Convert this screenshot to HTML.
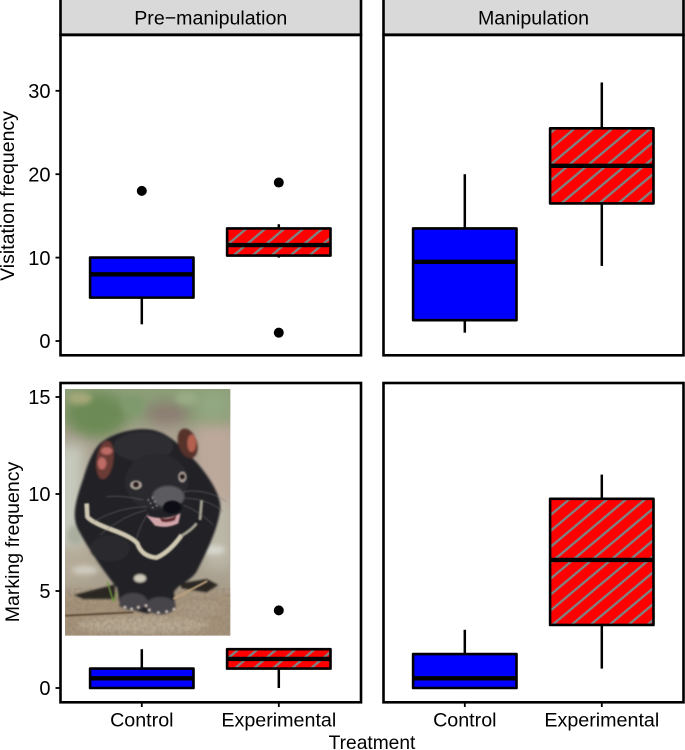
<!DOCTYPE html>
<html lang="en">
<head>
<meta charset="utf-8">
<title>Visitation and marking frequency</title>
<style>
html,body{margin:0;padding:0;background:#fff;width:685px;height:750px;overflow:hidden}
svg{display:block;font-family:"Liberation Sans",Arial,sans-serif;fill:#000}
text{font-size:19.6px}
</style>
</head>
<body>
<svg id="chart" xmlns="http://www.w3.org/2000/svg" width="685" height="750" viewBox="0 0 685 750">
<defs>
<pattern id="hatch" patternUnits="userSpaceOnUse" width="30" height="12.2" patternTransform="rotate(-40) translate(0 3)">
<rect width="30" height="12.2" fill="#ff0000"></rect>
<rect y="0" width="30" height="2.4" fill="#808080"></rect>
</pattern>
<filter id="b20" x="-30%" y="-30%" width="160%" height="160%"><feGaussianBlur stdDeviation="20"></feGaussianBlur></filter>
<filter id="b8" x="-30%" y="-30%" width="160%" height="160%"><feGaussianBlur stdDeviation="8"></feGaussianBlur></filter>
<filter id="b3" x="-30%" y="-30%" width="160%" height="160%"><feGaussianBlur stdDeviation="3.5"></feGaussianBlur></filter>
<filter id="b1" x="-30%" y="-30%" width="160%" height="160%"><feGaussianBlur stdDeviation="2.4"></feGaussianBlur></filter>
<filter id="grain" x="0" y="0" width="100%" height="100%">
  <feTurbulence type="fractalNoise" baseFrequency="0.09" numOctaves="3" seed="4"></feTurbulence>
  <feColorMatrix type="matrix" values="0 0 0 0 0.25  0 0 0 0 0.2  0 0 0 0 0.15  1.6 0 0 0 -0.55"></feColorMatrix>
</filter>
<clipPath id="photoClip"><rect x="195" y="42" width="496" height="740"></rect></clipPath>
</defs>

<g id="panels"></g>

<g transform="translate(0 375) scale(0.33333)" clip-path="url(#photoClip)">
  <rect x="195" y="42" width="496" height="740" fill="#a9a08f"></rect>
  <g filter="url(#b20)">
    <rect x="170" y="20" width="540" height="130" fill="#8a9e76"></rect>
    <ellipse cx="290" cy="120" rx="95" ry="70" fill="#6c8a55"></ellipse>
    <ellipse cx="640" cy="90" rx="50" ry="40" fill="#93a983"></ellipse>
    <ellipse cx="500" cy="115" rx="70" ry="35" fill="#8b7d72"></ellipse>
    <rect x="590" y="150" width="110" height="230" fill="#bda99b"></rect>
    <rect x="170" y="210" width="80" height="300" fill="#c6cbbd"></rect>
    <rect x="610" y="380" width="90" height="200" fill="#bcb8a8"></rect>
    <rect x="170" y="510" width="110" height="110" fill="#b5aa98"></rect>
    <rect x="170" y="650" width="540" height="150" fill="#a59279"></rect>
  </g>
  <g filter="url(#b8)">
    <ellipse cx="240" cy="70" rx="36" ry="18" fill="#a5a878"></ellipse>
    <ellipse cx="400" cy="90" rx="34" ry="30" fill="#7f9a6d"></ellipse>
    <ellipse cx="560" cy="70" rx="34" ry="20" fill="#98ab84"></ellipse>
    <ellipse cx="640" cy="525" rx="35" ry="14" fill="#d8d8cf"></ellipse>
    <ellipse cx="255" cy="585" rx="40" ry="12" fill="#d0cec3"></ellipse>
    <ellipse cx="225" cy="480" rx="24" ry="30" fill="#a9ad9d"></ellipse>
    <ellipse cx="430" cy="750" rx="200" ry="26" fill="#b7a892"></ellipse>
    <ellipse cx="600" cy="700" rx="70" ry="25" fill="#ab9a84"></ellipse>
  </g>
  <rect x="195" y="640" width="496" height="142" filter="url(#grain)" opacity="0.55"></rect>
  <g filter="url(#b3)">
    <path d="M222 660 L345 628 L345 672 L250 672Z" fill="#2b2723"></path>
    <path d="M540 625 L620 612 L655 630 L620 652 L545 640Z" fill="#2b2723"></path>
    <path d="M300 205 C340 172 420 152 470 168 C510 180 545 215 590 262 C640 320 668 375 660 410 C650 470 620 530 590 590 C570 620 540 625 522 650 L525 700 L440 715 L360 695 L352 640 C320 600 270 530 238 470 C215 430 222 390 250 310 C265 260 280 225 300 205Z" fill="#222226"></path>
    <ellipse cx="430" cy="215" rx="90" ry="45" fill="#2e2e33"></ellipse>
    <ellipse cx="470" cy="320" rx="95" ry="85" fill="#2a2a2e"></ellipse>
    <ellipse cx="330" cy="520" rx="60" ry="40" fill="#29292d"></ellipse>
    <ellipse cx="315" cy="255" rx="25" ry="58" fill="#6a3a35" transform="rotate(8 315 255)"></ellipse>
    <ellipse cx="563" cy="205" rx="28" ry="46" fill="#55302b" transform="rotate(-18 563 205)"></ellipse>
    <ellipse cx="575" cy="205" rx="13" ry="26" fill="#b5604f"></ellipse>
    <ellipse cx="320" cy="228" rx="17" ry="11" fill="#c06c66"></ellipse>
    <ellipse cx="306" cy="265" rx="13" ry="18" fill="#c06c66"></ellipse>
    <ellipse cx="505" cy="365" rx="48" ry="32" fill="#5c5c60"></ellipse>
    <ellipse cx="420" cy="610" rx="18" ry="12" fill="#cfc9ba"></ellipse>
    <ellipse cx="400" cy="680" rx="42" ry="26" fill="#47444a"></ellipse>
    <ellipse cx="482" cy="692" rx="45" ry="26" fill="#47444a"></ellipse>
  </g>
  <g filter="url(#b1)">
    <path d="M260 385 L262 425 Q272 440 330 462 Q395 485 412 505 Q425 545 470 548 Q510 530 545 480" stroke="#cfc7b1" stroke-width="14" fill="none"></path>
    <path d="M545 482 Q575 465 590 445 M600 435 L605 375" stroke="#a19d8e" stroke-width="9" fill="none"></path>
    <ellipse cx="408" cy="330" rx="18" ry="14" fill="#a59a92"></ellipse>
    <circle cx="408" cy="329" r="9" fill="#2a1e1a"></circle>
    <ellipse cx="547" cy="306" rx="13" ry="17" fill="#9c918a"></ellipse>
    <circle cx="547" cy="305" r="8" fill="#2a1e1a"></circle>
    <ellipse cx="517" cy="397" rx="28" ry="20" fill="#111114"></ellipse>
    <path d="M438 420 Q490 440 542 415 L535 445 Q500 462 465 452Z" fill="#d2a5aa"></path>
    <path d="M478 428 Q505 436 530 420 L525 436 Q500 445 485 440Z" fill="#5e2a2d"></path>
    <path d="M330 645 L340 680 M350 650 L340 680 M322 620 L340 680" stroke="#6f9a3e" stroke-width="4" fill="none"></path>
    <path d="M520 672 L622 618" stroke="#bda27c" stroke-width="6"></path>
    <path d="M195 722 L400 712" stroke="#54402f" stroke-width="5"></path>
    <g fill="#b9ada5">
      <circle cx="375" cy="697" r="5"></circle><circle cx="395" cy="702" r="5"></circle><circle cx="415" cy="697" r="5"></circle><circle cx="438" cy="692" r="5"></circle>
      <circle cx="448" cy="705" r="5"></circle><circle cx="475" cy="713" r="5"></circle><circle cx="500" cy="710" r="5"></circle><circle cx="522" cy="703" r="5"></circle>
    </g>
    <g stroke="#77777b" stroke-width="1.5" fill="none">
      <path d="M440 395 Q360 395 280 440"></path><path d="M440 405 Q370 420 300 480"></path><path d="M445 415 Q420 450 410 490"></path><path d="M430 375 Q370 360 320 365"></path>
      <path d="M550 350 Q620 340 680 380"></path><path d="M555 370 Q620 370 670 410"></path><path d="M550 390 Q600 410 640 450"></path>
    </g>
    <g fill="#b0b0b4">
      <circle cx="445" cy="375" r="2.5"></circle><circle cx="458" cy="368" r="2.5"></circle><circle cx="452" cy="385" r="2.5"></circle><circle cx="465" cy="380" r="2.5"></circle><circle cx="458" cy="398" r="2.5"></circle><circle cx="470" cy="392" r="2.5"></circle>
    </g>
  </g>
</g>

<g id="overlay"></g>
</svg>

<script>
// Order in all box arrays: Visitation Pre (Control, Experimental), Visitation Manip, Marking Pre, Marking Manip
const categories = ['Control', 'Experimental'];
const stripTitles = ['Pre\u2212manipulation', 'Manipulation'];
const visitationTicks = [0, 10, 20, 30];
const markingTicks = [0, 5, 10, 15];
const rowTitles = ['Visitation frequency', 'Marking frequency'];
const xAxisTitle = 'Treatment';

const whiskerLow  = [2, 10,    1, 9,      0, 0,    0, 1];
const boxQ1       = [5.2, 10.25, 2.5, 16.5, 0, 1,  0, 3.25];
const boxMedian   = [8, 11.5,  9.5, 21,   0.5, 1.5, 0.5, 6.6];
const boxQ3       = [10, 13.5, 13.5, 25.5, 1, 2,   1.75, 9.75];
const whiskerHigh = [10, 14,   20, 31,    2, 2,    3, 11];
const outliers    = [[18], [19, 1], [], [], [], [4], [], []];

const NS = 'http://www.w3.org/2000/svg';
const panelsLayer = document.getElementById('panels');
const overlayLayer = document.getElementById('overlay');

const colLeft = [60.5, 383.5];
const colRight = [361, 683.5];
const rowTop = [35, 383];
const rowBottom = [355.3, 702.3];

function yVisitation(v) { return 341 - v * 8.34; }
function yMarking(v) { return 688 - v * 19.4; }
function yScale(row, v) { return row === 0 ? yVisitation(v) : yMarking(v); }
function xScale(col, i) { return colLeft[col] + 81.3 + i * 137; }

function make(parent, tag, attrs, text) {
  const el = document.createElementNS(NS, tag);
  for (const k in attrs) el.setAttribute(k, attrs[k]);
  if (text !== undefined) el.textContent = text;
  parent.appendChild(el);
  return el;
}

// strips
stripTitles.forEach(function (title, col) {
  const strip = make(panelsLayer, 'rect', { x: colLeft[col], y: -2, width: colRight[col] - colLeft[col], height: 36.7, fill: '#d9d9d9', stroke: '#000', 'stroke-width': 2.6 });
  
  
  const label = make(panelsLayer, 'text', { x: (colLeft[col] + colRight[col]) / 2, y: 24.5, 'text-anchor': 'middle' }, title);
  
  
});

// panels and boxes
[0, 1].forEach(function (row) {
  [0, 1].forEach(function (col) {
    const bg = make(panelsLayer, 'rect', { x: colLeft[col], y: rowTop[row], width: colRight[col] - colLeft[col], height: rowBottom[row] - rowTop[row], fill: '#fff' });
    
    

    categories.forEach(function (cat, i) {
      const idx = row * 4 + col * 2 + i;
      const cx = xScale(col, i);
      const halfW = 51.7;
      const g = make(overlayLayer, 'g', {});
      
      

      const wLow = make(g, 'line', { x1: cx, x2: cx, y1: yScale(row, boxQ1[idx]), y2: yScale(row, whiskerLow[idx]), stroke: '#000', 'stroke-width': 2.5 });
      
      

      const wHigh = make(g, 'line', { x1: cx, x2: cx, y1: yScale(row, boxQ3[idx]), y2: yScale(row, whiskerHigh[idx]), stroke: '#000', 'stroke-width': 2.5 });
      
      

      const box = make(g, 'rect', { x: cx - halfW, y: yScale(row, boxQ3[idx]), width: halfW * 2, height: yScale(row, boxQ1[idx]) - yScale(row, boxQ3[idx]), fill: i === 0 ? '#0000ff' : 'url(#hatch)', stroke: '#000', 'stroke-width': 2.6, 'stroke-linejoin': 'round' });
      
      

      const med = make(g, 'line', { x1: cx - halfW, x2: cx + halfW, y1: yScale(row, boxMedian[idx]), y2: yScale(row, boxMedian[idx]), stroke: '#000', 'stroke-width': 4.4 });
      
      

      outliers[idx].forEach(function (v) {
        const pt = make(g, 'circle', { cx: cx, cy: yScale(row, v), r: 5, fill: '#000' });
        
        
      });
    });

    const border = make(overlayLayer, 'rect', { x: colLeft[col], y: rowTop[row], width: colRight[col] - colLeft[col], height: rowBottom[row] - rowTop[row], fill: 'none', stroke: '#000', 'stroke-width': 2.6 });
    
    
  });

  // y ticks
  (row === 0 ? visitationTicks : markingTicks).forEach(function (t) {
    const y = yScale(row, t);
    const tick = make(overlayLayer, 'line', { x1: 55.5, x2: 60.5, y1: y, y2: y, stroke: '#000', 'stroke-width': 1.8 });
    
    
    const lab = make(overlayLayer, 'text', { x: 50.5, y: y + 7.2, 'text-anchor': 'end', style: 'font-size:20px' }, String(t));
    
    
  });
});

// x ticks
[0, 1].forEach(function (col) {
  categories.forEach(function (cat, i) {
    const x = xScale(col, i);
    const tick = make(overlayLayer, 'line', { x1: x, x2: x, y1: 702.3, y2: 707, stroke: '#000', 'stroke-width': 1.8 });
    
    
    const lab = make(overlayLayer, 'text', { x: x, y: 726.5, 'text-anchor': 'middle', style: 'font-size:19.7px' }, cat);
    
    
  });
});

// axis titles
const visTitle = make(overlayLayer, 'text', { transform: 'translate(14 196) rotate(-90)', 'text-anchor': 'middle', style: 'font-size:19.5px' }, rowTitles[0]);



const markTitle = make(overlayLayer, 'text', { transform: 'translate(19 542) rotate(-90)', 'text-anchor': 'middle', style: 'font-size:19.5px' }, rowTitles[1]);



const xTitle = make(overlayLayer, 'text', { x: 372, y: 749, 'text-anchor': 'middle', style: 'font-size:19.2px' }, xAxisTitle);


</script>
</body>
</html>
